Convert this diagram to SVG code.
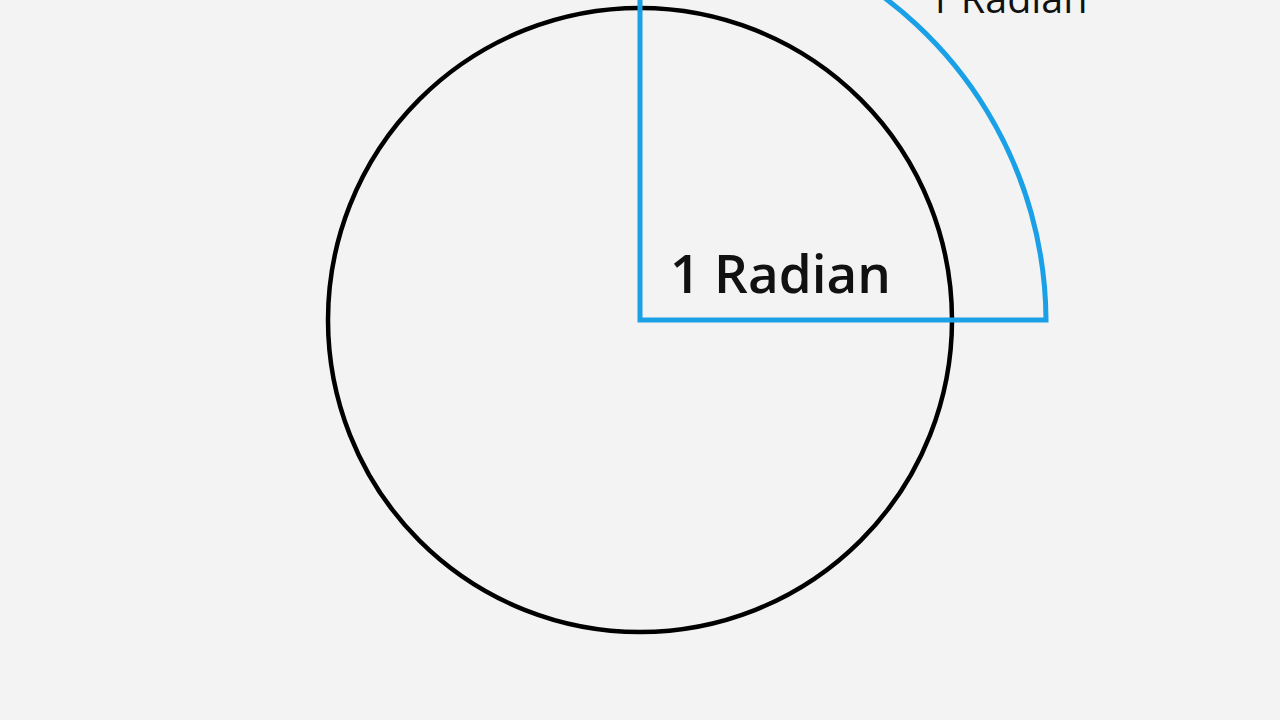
<svg xmlns="http://www.w3.org/2000/svg" width="1280" height="720" viewBox="0 0 1280 720">
<style>
.bg{fill:#f3f3f3}
.circ{fill:none;stroke:#000;stroke-width:4.5}
.blue{fill:none;stroke:#1aa0e6;stroke-width:5;stroke-linejoin:miter}
.lbl{font-family:"Open Sans","Noto Sans",sans-serif;fill:#111}
</style>
<rect class="bg" x="0" y="0" width="1280" height="720"/>
<g id="circle"><circle class="circ" cx="640" cy="320" r="312"/></g>
<g id="sector"><path class="blue" d="M640,-100 L640,320 L1046,320 A406,406 0 0 0 828,-38"/></g>
<g id="label-center"><text class="lbl" x="670" y="293" font-size="53" font-weight="600">1 Radian</text></g>
<g id="label-arc"><text class="lbl" x="928" y="13" font-size="39.5">1 Radian</text></g>
</svg>
